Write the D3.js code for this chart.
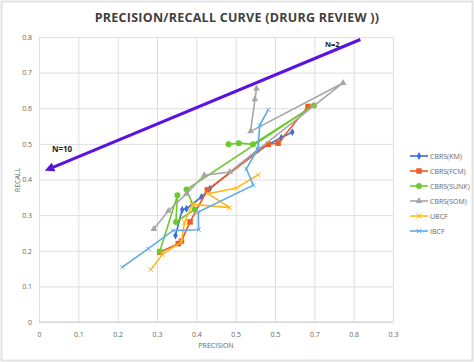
<!DOCTYPE html>
<html>
<head>
<meta charset="utf-8">
<script src="https://cdn.jsdelivr.net/npm/d3@7"></script>
<style>
  body { margin: 0; background: #fff; }
  text { font-family: "Open Sans", "DejaVu Sans", sans-serif; }
</style>
</head>
<body>
<div id="chart"></div>
<script>
// values (precision, recall), N=2 .. N=10
const seriesNames = ["CBRS(KM)", "CBRS(FCM)", "CBRS(SUNK)", "CBRS(SOM)", "UBCF", "IBCF"];
const kmPts = [[0.644, 0.533], [0.616, 0.517], [0.557, 0.484], [0.434, 0.374], [0.413, 0.351], [0.375, 0.318], [0.364, 0.315], [0.347, 0.243]];
const fcmPts = [[0.684, 0.605], [0.608, 0.502], [0.583, 0.499], [0.428, 0.371], [0.384, 0.281], [0.362, 0.227], [0.354, 0.220], [0.307, 0.196]];
const sunkPts = [[0.482, 0.499], [0.508, 0.502], [0.544, 0.499], [0.699, 0.608], [0.375, 0.372], [0.396, 0.316], [0.348, 0.281], [0.352, 0.356], [0.307, 0.198]];
const somPts = [[0.553, 0.655], [0.549, 0.625], [0.538, 0.535], [0.773, 0.671], [0.485, 0.421], [0.420, 0.412], [0.375, 0.360], [0.329, 0.312], [0.292, 0.261]];
const ubcfPts = [[0.557, 0.413], [0.502, 0.376], [0.430, 0.360], [0.485, 0.321], [0.390, 0.330], [0.370, 0.280], [0.362, 0.225], [0.314, 0.190], [0.284, 0.147]];
const ibcfPts = [[0.583, 0.596], [0.561, 0.552], [0.557, 0.487], [0.527, 0.430], [0.545, 0.384], [0.405, 0.309], [0.406, 0.259], [0.341, 0.257], [0.278, 0.206], [0.212, 0.154]];
const xTicks = [0, 0.1, 0.2, 0.3, 0.4, 0.5, 0.6, 0.7, 0.8, 0.9];
const xTickLabels = ["0", "0.1", "0.2", "0.3", "0.4", "0.5", "0.5", "0.7", "0.8", "0.3"];
const yTicks = [0, 0.1, 0.2, 0.3, 0.4, 0.5, 0.6, 0.7, 0.8];
const arrowFrom = [0.817, 0.793];  // N=2
const arrowTo = [0.026, 0.430];    // N=10

const allPts = [kmPts, fcmPts, sunkPts, somPts, ubcfPts, ibcfPts];
const colors = ["#3b6fd6", "#f05a22", "#6ccb2a", "#a6a6a6", "#ffb81c", "#5eaaea"];
const shapes = ["diamond", "square", "circle", "triangle", "cross", "cross"];

const W = 474, H = 362;
const margin = {top: 37, right: 81, bottom: 40, left: 39};
const width = W - margin.left - margin.right,
      height = H - margin.top - margin.bottom;

const svg = d3.select("#chart").append("svg")
  .attr("width", W).attr("height", H);

svg.append("rect")
  .attr("x", 1.5).attr("y", 1.5).attr("width", W - 3).attr("height", H - 3)
  .attr("fill", "#fff").attr("stroke", "#e3e3e3").attr("stroke-width", 2);

svg.append("text")
  .attr("x", 237).attr("y", 21.5)
  .attr("text-anchor", "middle")
  .attr("font-size", 12.5).attr("font-weight", "bold")
  .attr("letter-spacing", 0.25)
  .attr("fill", "#3f3f3f")
  .text("PRECISION/RECALL CURVE (DRURG REVIEW ))");

const g = svg.append("g").attr("transform", `translate(${margin.left},${margin.top})`);

const x = d3.scaleLinear().domain([0, 0.9]).range([0, width]);
const y = d3.scaleLinear().domain([0, 0.8]).range([height, 0]);

// gridlines
g.append("g")
  .call(d3.axisLeft(y).tickValues(yTicks).tickSize(-width).tickFormat(""))
  .call(s => s.select(".domain").remove())
  .selectAll("line").attr("stroke", "#dedede");
g.append("g")
  .call(d3.axisBottom(x).tickValues(xTicks).tickSize(height).tickFormat(""))
  .call(s => s.select(".domain").remove())
  .selectAll("line").attr("stroke", "#dedede");
g.append("line")
  .attr("x1", 0).attr("x2", width).attr("y1", height).attr("y2", height)
  .attr("stroke", "#cfcfcf");

// tick labels
const xAxis = g.append("g").attr("transform", `translate(0,${height})`)
  .call(d3.axisBottom(x).tickValues(xTicks).tickSize(0).tickPadding(10)
    .tickFormat((d, i) => xTickLabels[i]));
xAxis.select(".domain").remove();
xAxis.selectAll("text").attr("font-size", 7).attr("fill", "#666")
  .attr("font-family", "'Open Sans', sans-serif");

const yAxis = g.append("g")
  .call(d3.axisLeft(y).tickValues(yTicks).tickSize(0).tickPadding(7)
    .tickFormat(d => d === 0 ? "0" : d3.format(".1f")(d)));
yAxis.select(".domain").remove();
yAxis.selectAll("text").attr("font-size", 7).attr("fill", "#666")
  .attr("font-family", "'Open Sans', sans-serif");

svg.append("text")
  .attr("x", 216).attr("y", 348).attr("text-anchor", "middle")
  .attr("font-size", 7).attr("fill", "#666").text("PRECISION");
svg.append("text")
  .attr("transform", "translate(20,180) rotate(-90)").attr("text-anchor", "middle")
  .attr("font-size", 7).attr("fill", "#666").text("RECALL");

// arrow N=2 -> N=10
svg.append("defs").append("marker")
  .attr("id", "head").attr("viewBox", "0 0 10 10")
  .attr("refX", 5).attr("refY", 5)
  .attr("markerWidth", 3.2).attr("markerHeight", 3.2)
  .attr("orient", "auto")
  .append("path").attr("d", "M0,0 L10,5 L0,10 z").attr("fill", "#5a12e0");
g.append("line")
  .attr("x1", x(arrowFrom[0])).attr("y1", y(arrowFrom[1]))
  .attr("x2", x(arrowTo[0])).attr("y2", y(arrowTo[1]))
  .attr("stroke", "#5a12e0").attr("stroke-width", 3)
  .attr("marker-end", "url(#head)");
g.append("text")
  .attr("x", x(0.727)).attr("y", y(0.772))
  .attr("font-size", 7.5).attr("font-weight", "bold").attr("fill", "#222").text("N=2");
g.append("text")
  .attr("x", x(0.033)).attr("y", y(0.477))
  .attr("font-size", 8).attr("font-weight", "bold").attr("fill", "#222").text("N=10");

function drawMarker(sel, shape, color, size) {
  if (shape === "cross") {
    sel.append("path")
      .attr("d", d3.symbol().type(d3.symbolTimes).size(size * 0.7))
      .attr("fill", "none").attr("stroke", color).attr("stroke-width", 1);
  } else {
    const t = {diamond: d3.symbolDiamond, square: d3.symbolSquare,
               circle: d3.symbolCircle, triangle: d3.symbolTriangle}[shape];
    sel.append("path").attr("d", d3.symbol().type(t).size(size)).attr("fill", color);
  }
}

const line = d3.line().x(d => x(d[0])).y(d => y(d[1]));
const sizes = [18, 30, 28, 20, 26, 18];

allPts.forEach((pts, i) => {
  g.append("path").datum(pts)
    .attr("d", line)
    .attr("fill", "none")
    .attr("stroke", colors[i])
    .attr("stroke-width", 1.6);
  pts.forEach(p => {
    const m = g.append("g").attr("transform", `translate(${x(p[0])},${y(p[1])})`);
    drawMarker(m, shapes[i], colors[i], sizes[i]);
  });
});

// legend
const legend = svg.append("g").attr("transform", "translate(410,156)");
seriesNames.forEach((name, i) => {
  const row = legend.append("g").attr("transform", `translate(0,${i * 15})`);
  row.append("line").attr("x1", 0).attr("x2", 18).attr("y1", 0).attr("y2", 0)
    .attr("stroke", colors[i]).attr("stroke-width", 1.6);
  const m = row.append("g").attr("transform", "translate(9,0)");
  drawMarker(m, shapes[i], colors[i], sizes[i]);
  row.append("text").attr("x", 20).attr("y", 2.5)
    .attr("font-size", 7).attr("fill", "#666").text(name);
});
</script>
</body>
</html>
